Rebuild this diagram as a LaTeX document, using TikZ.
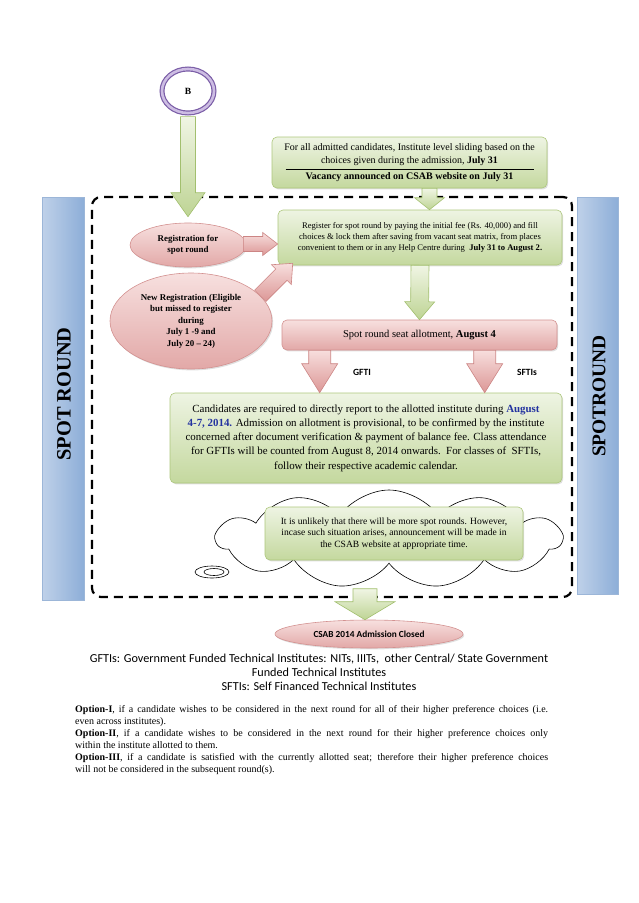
\documentclass[tikz,border=0pt]{standalone}
\usepackage{fontspec}
\setmainfont{Liberation Serif}
\newfontfamily\calfont{Carlito}
\usetikzlibrary{calc,shapes.geometric,shapes.symbols,shadows}
\definecolor{gtop}{HTML}{EEF4E3}
\definecolor{gbot}{HTML}{C4D89E}
\definecolor{gborder}{HTML}{ADC77C}
\definecolor{ptop}{HTML}{F7E0DF}
\definecolor{pbot}{HTML}{E2A8A7}
\definecolor{pborder}{HTML}{D39190}
\definecolor{gatop}{HTML}{F0F5E4}
\definecolor{gabot}{HTML}{BED494}
\definecolor{gaborder}{HTML}{A2BF6E}
\definecolor{patop}{HTML}{F7DEDD}
\definecolor{pabot}{HTML}{DC9796}
\definecolor{paborder}{HTML}{CC8584}
\definecolor{barL}{HTML}{BFD1E9}
\definecolor{barM}{HTML}{DEE8F4}
\definecolor{barR}{HTML}{8DAED8}
\definecolor{barB}{HTML}{9CB6D8}
\definecolor{bpurple}{HTML}{7B5EA7}
\definecolor{blav}{HTML}{CDBDE3}
\definecolor{augblue}{RGB}{35,50,160}
\newcommand\blkarrow[6]{%
  \coordinate (ba-s) at (#2);
  \coordinate (ba-t) at (#3);
  \coordinate (ba-h) at ($(ba-t)!#6pt!(ba-s)$);
  \path[#1] ($(ba-s)!#4pt!90:(ba-t)$) -- ($(ba-h)!#4pt!90:(ba-t)$) -- ($(ba-h)!#5pt!90:(ba-t)$) -- (ba-t)
    -- ($(ba-h)!#5pt!-90:(ba-t)$) -- ($(ba-h)!#4pt!-90:(ba-t)$) -- ($(ba-s)!#4pt!-90:(ba-t)$) -- cycle;
}
\tikzset{
  softshadow/.style={drop shadow={opacity=0.25,shadow xshift=1.2pt,shadow yshift=-1.4pt}},
  gbox/.style={draw=gborder, line width=0.6pt, rounded corners=5pt, top color=gtop, bottom color=gbot,
    inner sep=0pt, align=center, softshadow},
  pbox/.style={draw=pborder, line width=0.6pt, rounded corners=5pt, top color=ptop, bottom color=pbot,
    inner sep=0pt, align=center, softshadow},
  pell/.style={ellipse, draw=pborder, line width=0.6pt, top color=ptop, bottom color=pbot, inner sep=0pt,
    align=center, softshadow, font=\bfseries\fontsize{8.9}{11.5}\selectfont},
  garrow/.style={draw=gaborder, line width=0.6pt, top color=gatop, bottom color=gabot},
  parrow/.style={draw=paborder, line width=0.6pt, top color=patop, bottom color=pabot},
  sidebar/.style={draw=barB, line width=0.5pt, left color=barL, middle color=barM, right color=barR,
    inner sep=0pt, softshadow},
  frame/.style={draw=black, line width=2.2pt, dash pattern=on 9pt off 6pt, rounded corners=9pt,
    inner sep=0pt},
  lbl/.style={font=\calfont\bfseries\fontsize{9.5}{11}\selectfont, inner sep=0pt},
  bnode/.style={ellipse, draw=bpurple, line width=1.2pt, double=blav, double distance=2.6pt, fill=white,
    minimum width=52pt, minimum height=44pt, inner sep=0pt, font=\bfseries\fontsize{9.5}{10}\selectfont},
}
\begin{document}
\begin{tikzpicture}[x=1pt,y=-1pt]
\useasboundingbox (0,0) rectangle (638,903);
% side bars
\node[sidebar, minimum width=42pt, minimum height=403pt] (lbar) at (63,398.5) {};
\node[rotate=90, inner sep=0pt, font=\bfseries\fontsize{20.4}{22}\selectfont] (ltxt) at (64,394) {SPOT ROUND};
\node[sidebar, minimum width=41pt, minimum height=397pt] (rbar) at (597.5,395.5) {};
\node[rotate=90, inner sep=0pt, font=\bfseries\fontsize{19.4}{21}\selectfont] (rtxt) at (599,396) {SPOTROUND};
% dashed frame
\node[frame, minimum width=480pt, minimum height=400pt] (frm) at (332,397) {};
% B
\node[bnode] (B) at (188,91) {B};
% top box
\node[gbox, minimum width=275pt, minimum height=51pt, font=\fontsize{10}{13}\selectfont] (top) at (409.5,162.5)
  {For all admitted candidates, Institute level sliding based on the\\
   choices given during the admission, \textbf{July 31}\\[-7pt]
   \rule{248pt}{0.7pt}\\[-3pt]
   \textbf{Vacancy announced on CSAB website on July 31}};
% register box
\node[gbox, minimum width=284pt, minimum height=55pt, font=\fontsize{8.6}{11.3}\selectfont] (reg) at (420,237.5)
  {Register for spot round by paying the initial fee (Rs. 40,000) and fill\\
   choices \& lock them after saving from vacant seat matrix, from places\\
   convenient to them or in any Help Centre during\ \ \textbf{July 31 to August 2.}};
% ellipses
\node[pell, minimum width=116pt, minimum height=44pt] (regE) at (188,245) {Registration for\\spot round};
\node[pell, minimum width=162pt, minimum height=96pt] (newE) at (191,321)
  {New Registration (Eligible\\but missed to register\\during\\July 1 -9 and\\July 20 -- 24)};
% spot bar
\node[pbox, minimum width=275pt, minimum height=30pt, font=\fontsize{10.5}{13}\selectfont] (spot) at (419.5,335)
  {Spot round seat allotment, \textbf{August 4}};
% labels
\node[lbl] (gfti) at (362,372) {GFTI};
\node[lbl] (sfti) at (527,372) {SFTIs};
% candidates box
\node[gbox, minimum width=392pt, minimum height=90pt, font=\fontsize{10.9}{14.3}\selectfont] (cand) at (366,438)
  {Candidates are required to directly report to the allotted institute during \textcolor{augblue}{\textbf{August}}\\
   \textcolor{augblue}{\textbf{4-7, 2014.}} Admission on allotment is provisional, to be confirmed by the institute\\
   concerned after document verification \& payment of balance fee. Class attendance\\
   for GFTIs will be counted from August 8, 2014 onwards.\ \ For classes of\ \ SFTIs,\\
   follow their respective academic calendar.};
% cloud
\node[cloud, draw=black, line width=0.6pt, fill=white, cloud puffs=11, cloud puff arc=110, cloud ignores aspect,
  minimum width=345pt, minimum height=98pt, inner sep=0pt] (cloud) at (389,539) {};
\node[ellipse, draw=black, line width=0.6pt, fill=white, minimum width=34pt, minimum height=12pt, inner sep=0pt] (tail1) at (212,572) {};
\node[ellipse, draw=black, line width=0.6pt, minimum width=20pt, minimum height=7pt, inner sep=0pt] (tail2) at (214,572) {};
\node[gbox, minimum width=258pt, minimum height=53pt, font=\fontsize{9.55}{11.7}\selectfont] (cbox) at (394,533.5)
  {It is unlikely that there will be more spot rounds. However,\\
   incase such situation arises, announcement will be made in\\
   the CSAB website at appropriate time.};
% closed
\node[pell, minimum width=188pt, minimum height=28pt, font=\calfont\bfseries\fontsize{9.3}{10}\selectfont] (closed) at (369,634)
  {CSAB 2014 Admission Closed};
% arrow anchor points
\coordinate (a1s) at ($(top.south)+(20,0)$);
\coordinate (a2s) at ($(regE.east)+(-3,-1)$);
\coordinate (g1) at ($(spot.south west)+(38,0)$);
\coordinate (g2) at ($(spot.south west)+(203,0)$);
\coordinate (c1) at ($(closed.north)+(-4,0)$);
\coordinate (c0) at ($(c1)+(0,-31)$);
% arrows
\blkarrow{garrow}{$(B.south)+(0,3)$}{$(regE.north)+(0,-6)$}{7.5}{17}{24}
\blkarrow{garrow}{a1s}{a1s |- reg.north}{7.5}{15}{12}
\blkarrow{parrow}{a2s}{a2s -| reg.west}{7.5}{11.5}{15}
\blkarrow{parrow}{newE.20}{$(reg.south west)+(15,-2)$}{8}{14}{16}
\blkarrow{garrow}{reg.south}{spot.north}{9}{15}{18}
\blkarrow{parrow}{g1}{g1 |- cand.north}{11}{18}{29}
\blkarrow{parrow}{g2}{g2 |- cand.north}{11}{18}{29}
\blkarrow{garrow}{c0}{c1}{12}{30}{18}
% glossary
\node[font=\calfont\fontsize{12.2}{14}\selectfont, align=center, inner sep=0pt] (gloss) at (319,672)
  {GFTIs: Government Funded Technical Institutes: NITs, IIITs,\ \ other Central/ State Government\\
   Funded Technical Institutes\\
   SFTIs: Self Financed Technical Institutes};
% options
\node[anchor=north west, text width=473pt, align=justify, inner sep=0pt, font=\fontsize{10}{12}\selectfont] (opts) at (75,705)
  {\parindent=0pt\textbf{Option-I}, if a candidate wishes to be considered in the next round for all of their higher preference choices (i.e.\linebreak
   even across institutes).\par
   \textbf{Option-II}, if a candidate wishes to be considered in the next round for their higher preference choices only\linebreak
   within the institute allotted to them.\par
   \textbf{Option-III}, if a candidate is satisfied with the currently allotted seat; therefore their higher preference choices\linebreak
   will not be considered in the subsequent round(s).};
\end{tikzpicture}
\end{document}
